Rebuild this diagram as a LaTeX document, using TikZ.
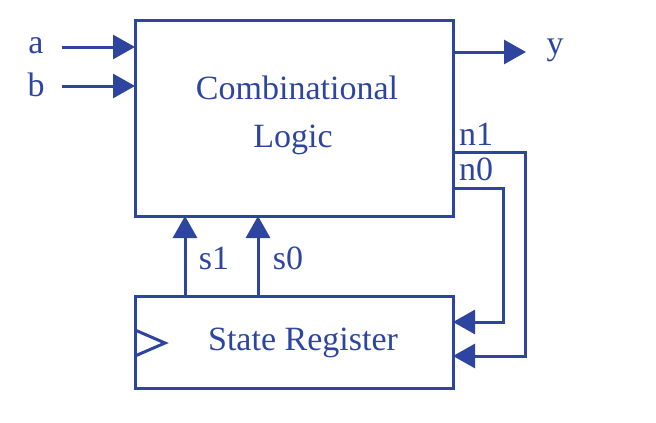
\documentclass[tikz,border=0pt]{standalone}
\usepackage{fontspec}
\setmainfont{Liberation Serif}
\usetikzlibrary{arrows.meta}
\definecolor{bl}{HTML}{2E45A0}
\begin{document}
\begin{tikzpicture}[x=1pt,y=-1pt,
  wire/.style={bl,line width=3pt},
  arr/.style={wire,-{Triangle[length=22pt,width=24pt]}},
  box/.style={draw=bl,line width=3pt},
  lbl/.style={text=bl,font=\fontsize{34}{38}\selectfont,inner sep=0pt}]
\useasboundingbox (0,0) rectangle (656,423);
\draw[box] (135,20) rectangle (453,216);
\draw[box] (135,296) rectangle (453,388);
\node[lbl] (cl) at (297,88) {Combinational};
\node[lbl] (lg) at (293,140) {Logic};
\node[lbl] (sr) at (303,343) {State Register};
\draw[wire] (135,330) -- (165,343) -- (135,356);
\coordinate (ai) at (62,47); \coordinate (ao) at (135,47);
\coordinate (bi) at (62,86); \coordinate (bo) at (135,86);
\node[lbl] (a) at (36,46) {a};
\node[lbl] (b) at (36,85) {b};
\draw[arr] (ai) -- (ao);
\draw[arr] (bi) -- (bo);
\coordinate (yi) at (453,52); \coordinate (yo) at (526,52);
\draw[arr] (yi) -- (yo);
\node[lbl] (y) at (555,50) {y};
\coordinate (s1b) at (185,296); \coordinate (s1t) at (185,216);
\coordinate (s0b) at (258,296); \coordinate (s0t) at (258,216);
\draw[arr] (s1b) -- (s1t);
\draw[arr] (s0b) -- (s0t);
\node[lbl] (s1) at (214,258) {s1};
\node[lbl] (s0) at (288,258) {s0};
\coordinate (n1s) at (453,152); \coordinate (n1e) at (453,356);
\coordinate (n0s) at (453,188); \coordinate (n0e) at (453,322);
\draw[arr] (n1s) -| (525,356) -- (n1e);
\draw[arr] (n0s) -| (503,322) -- (n0e);
\node[lbl] (n1) at (476,134) {n1};
\node[lbl] (n0) at (476,169) {n0};
\end{tikzpicture}
\end{document}
